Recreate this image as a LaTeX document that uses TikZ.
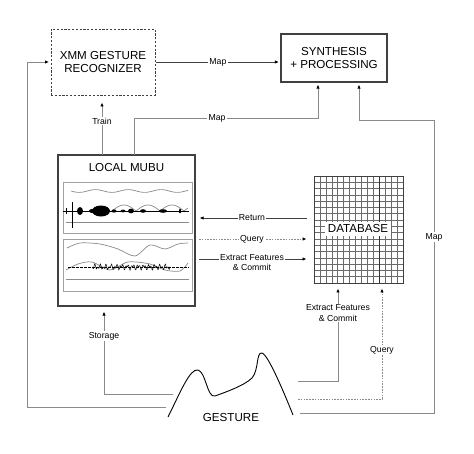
\documentclass[tikz,border=0pt]{standalone}
\usepackage{fontspec}
\setmainfont{Liberation Sans}
\usetikzlibrary{arrows.meta}
\definecolor{cg}{HTML}{8A8A8A}
\definecolor{cd}{HTML}{404040}
\definecolor{gridc}{HTML}{6A6A6A}
\begin{document}
\begin{tikzpicture}[x=1pt,y=-1pt,
  lbl/.style={font=\fontsize{8.7}{10.2}\selectfont, fill=white, inner sep=1.2pt, align=center},
  big/.style={font=\fontsize{11.6}{13.8}\selectfont, align=center},
  conn/.style={draw=cg, line width=0.9pt},
  connd/.style={draw=cd, line width=0.8pt},
  qdash/.style={draw=cg, line width=0.9pt, dash pattern=on 1.6pt off 1.2pt},
  tip/.style={-{Latex[length=4pt,width=3.4pt,color=black]}},
  panel/.style={draw=cg!80, line width=0.7pt},
  wave/.style={draw=cg, line width=0.7pt}]
\useasboundingbox (0,0) rectangle (474,453);

% ---- boxes
\node[draw=cd, line width=0.9pt, dash pattern=on 2.2pt off 1.6pt, minimum width=104pt, minimum height=66pt, big] (xmm) at (103,62) {XMM GESTURE\\RECOGNIZER};
\node[draw=cd, line width=1.1pt, minimum width=106pt, minimum height=48pt, big] (syn) at (334,58) {SYNTHESIS\\+ PROCESSING};
\node[draw=cd, line width=1.1pt, minimum width=137pt, minimum height=151pt] (mubu) at (126.5,230.5) {};
\node[big, anchor=center] (mubut) at (126.5,168) {LOCAL MUBU};

% ---- MUBU panels
\draw[panel] (63,182) rectangle (192,233);
\draw[panel] (63,239) rectangle (192,291);
% panel 1
\draw[wave] plot[domain=71:188, samples=70, smooth] (\x,{191+1.4*sin((\x-71)*11)});
\draw[wave] (66,222) -- (189,222);
\draw[wave] plot[domain=112:188, samples=80, smooth] (\x,{211-6*abs(sin((\x-112)*7.5))});
\draw[black, line width=0.5pt] (64,211) -- (189,211);
\draw[black, line width=0.6pt] (72,202) -- (72,228);
\draw[black, line width=0.6pt] (63,211) -- (69,211) (66,208) -- (66,214);
\fill[black] (80,211) ellipse [x radius=3pt, y radius=4pt];
\fill[black] (101,211) ellipse [x radius=9pt, y radius=5.5pt];
\fill[black] (92,211) ellipse [x radius=3pt, y radius=2pt];
\fill[black] (114,211) ellipse [x radius=2.5pt, y radius=1.6pt];
\fill[black] (123,211) ellipse [x radius=2.5pt, y radius=1.4pt];
\fill[black] (131,211) ellipse [x radius=3pt, y radius=2.4pt];
\fill[black] (143,211) ellipse [x radius=3pt, y radius=1.8pt];
\fill[black] (163,211) ellipse [x radius=4pt, y radius=1.8pt];
\fill[black] (180,211) ellipse [x radius=1pt, y radius=2.5pt];
% panel 2
\draw[wave] plot[smooth] coordinates {(67,248) (80,243) (100,244) (118,249) (135,256) (150,245) (165,249) (178,244) (188,243)};
\draw[wave] (66,279) -- (189,279);
\draw[wave] plot[smooth] coordinates {(66,270) (78,264) (92,262) (110,270) (128,262) (150,264) (165,270) (180,271) (188,263)};
\draw[black, line width=0.5pt, dash pattern=on 3pt off 1pt] (68,267) -- (189,267);
\draw[black, line width=0.5pt] plot[domain=0:78, samples=120] ({92+\x},{267+3.2*sin(\x*97)*sin(\x*31)});

% ---- database
\foreach \i in {1,...,10,12,13,14} \draw[gridc, line width=0.5pt] ({314+\i*5.93},176) -- ++(0,107);
\foreach \j in {1,...,16} \draw[gridc, line width=0.5pt] (314,{176+\j*6.29}) -- ++(89,0);
\draw[black!80, line width=0.8pt] ({314+11*5.93},176) -- ++(0,107);
\node[draw=cd, line width=0.9pt, minimum width=89pt, minimum height=107pt] (db) at (358.5,229.5) {};
\node[big, fill=white, inner sep=2.5pt] (dbt) at (358,229) {DATABASE};

% ---- gesture
\draw[black, line width=0.9pt] (168,417) .. controls (180,393) and (190,368) .. (198,370)
  .. controls (206,372) and (207,398) .. (215,396)
  .. controls (223,393) and (244,386) .. (252,378)
  .. controls (259,370) and (256,352) .. (262,353)
  .. controls (268,354) and (285,395) .. (293,415);
\node[big] (gest) at (231,417) {GESTURE};

% ---- connectors
\coordinate (gl) at (166,407);
\coordinate (lc) at (27,407);
\draw[conn, tip, shorten >=1.5pt] (gl) -- (lc) -- (lc |- xmm.west) -- (xmm.west);

\draw[connd, tip, shorten >=1.5pt, shorten <=1pt] (xmm.east) -- (xmm.east -| syn.west)
  node[lbl, midway] (mapa) {Map};

\coordinate (tr) at (102,155);
\draw[conn, tip, shorten >=7pt] (tr) -- (tr |- xmm.south);
\node[lbl] (train) at (102,121) {Train};

\coordinate (m1) at (134,155);
\coordinate (m2) at (318,118);
\draw[conn, tip, shorten >=2pt] (m1) |- (m2) -- (m2 |- syn.south);
\node[lbl] (mapb) at (217,118) {Map};

\coordinate (r0) at (300,413);
\coordinate (r1) at (434,120);
\coordinate (r2) at (359,120);
\draw[conn, tip, shorten >=2pt] (r0) -| (r1) -- (r2) -- (r2 |- syn.south);
\node[lbl] (mapc) at (434,237) {Map};

\coordinate (ret) at (307,218);
\draw[connd, tip, shorten >=4pt] (ret) -- (ret -| mubu.east);
\node[lbl] (retl) at (252,218) {Return};

\coordinate (q) at (199,239);
\draw[qdash, tip, shorten >=7pt] (q) -- (q -| db.west);
\node[lbl] (ql) at (252,239) {Query};

\coordinate (e) at (199,259);
\draw[connd, tip, shorten >=7pt] (e) -- (e -| db.west);
\node[lbl, anchor=north] (el) at (252,253.2) {Extract Features\\\& Commit};

\coordinate (b0) at (298,381);
\coordinate (b1) at (338,381);
\draw[conn, tip, shorten >=5pt] (b0) -- (b1) -- (b1 |- db.south);
\node[lbl] (bl) at (338,313) {Extract Features\\\& Commit};

\coordinate (c0) at (298,399);
\coordinate (c1) at (382,399);
\draw[qdash, tip, shorten >=5pt] (c0) -- (c1) -- (c1 |- db.south);
\node[lbl] (cl) at (382,350) {Query};

\coordinate (s0) at (173,394);
\coordinate (s1) at (104,394);
\draw[conn, tip, shorten >=5pt] (s0) -- (s1) -- (s1 |- mubu.south);
\node[lbl] (sl) at (104,336) {Storage};
\end{tikzpicture}
\end{document}
